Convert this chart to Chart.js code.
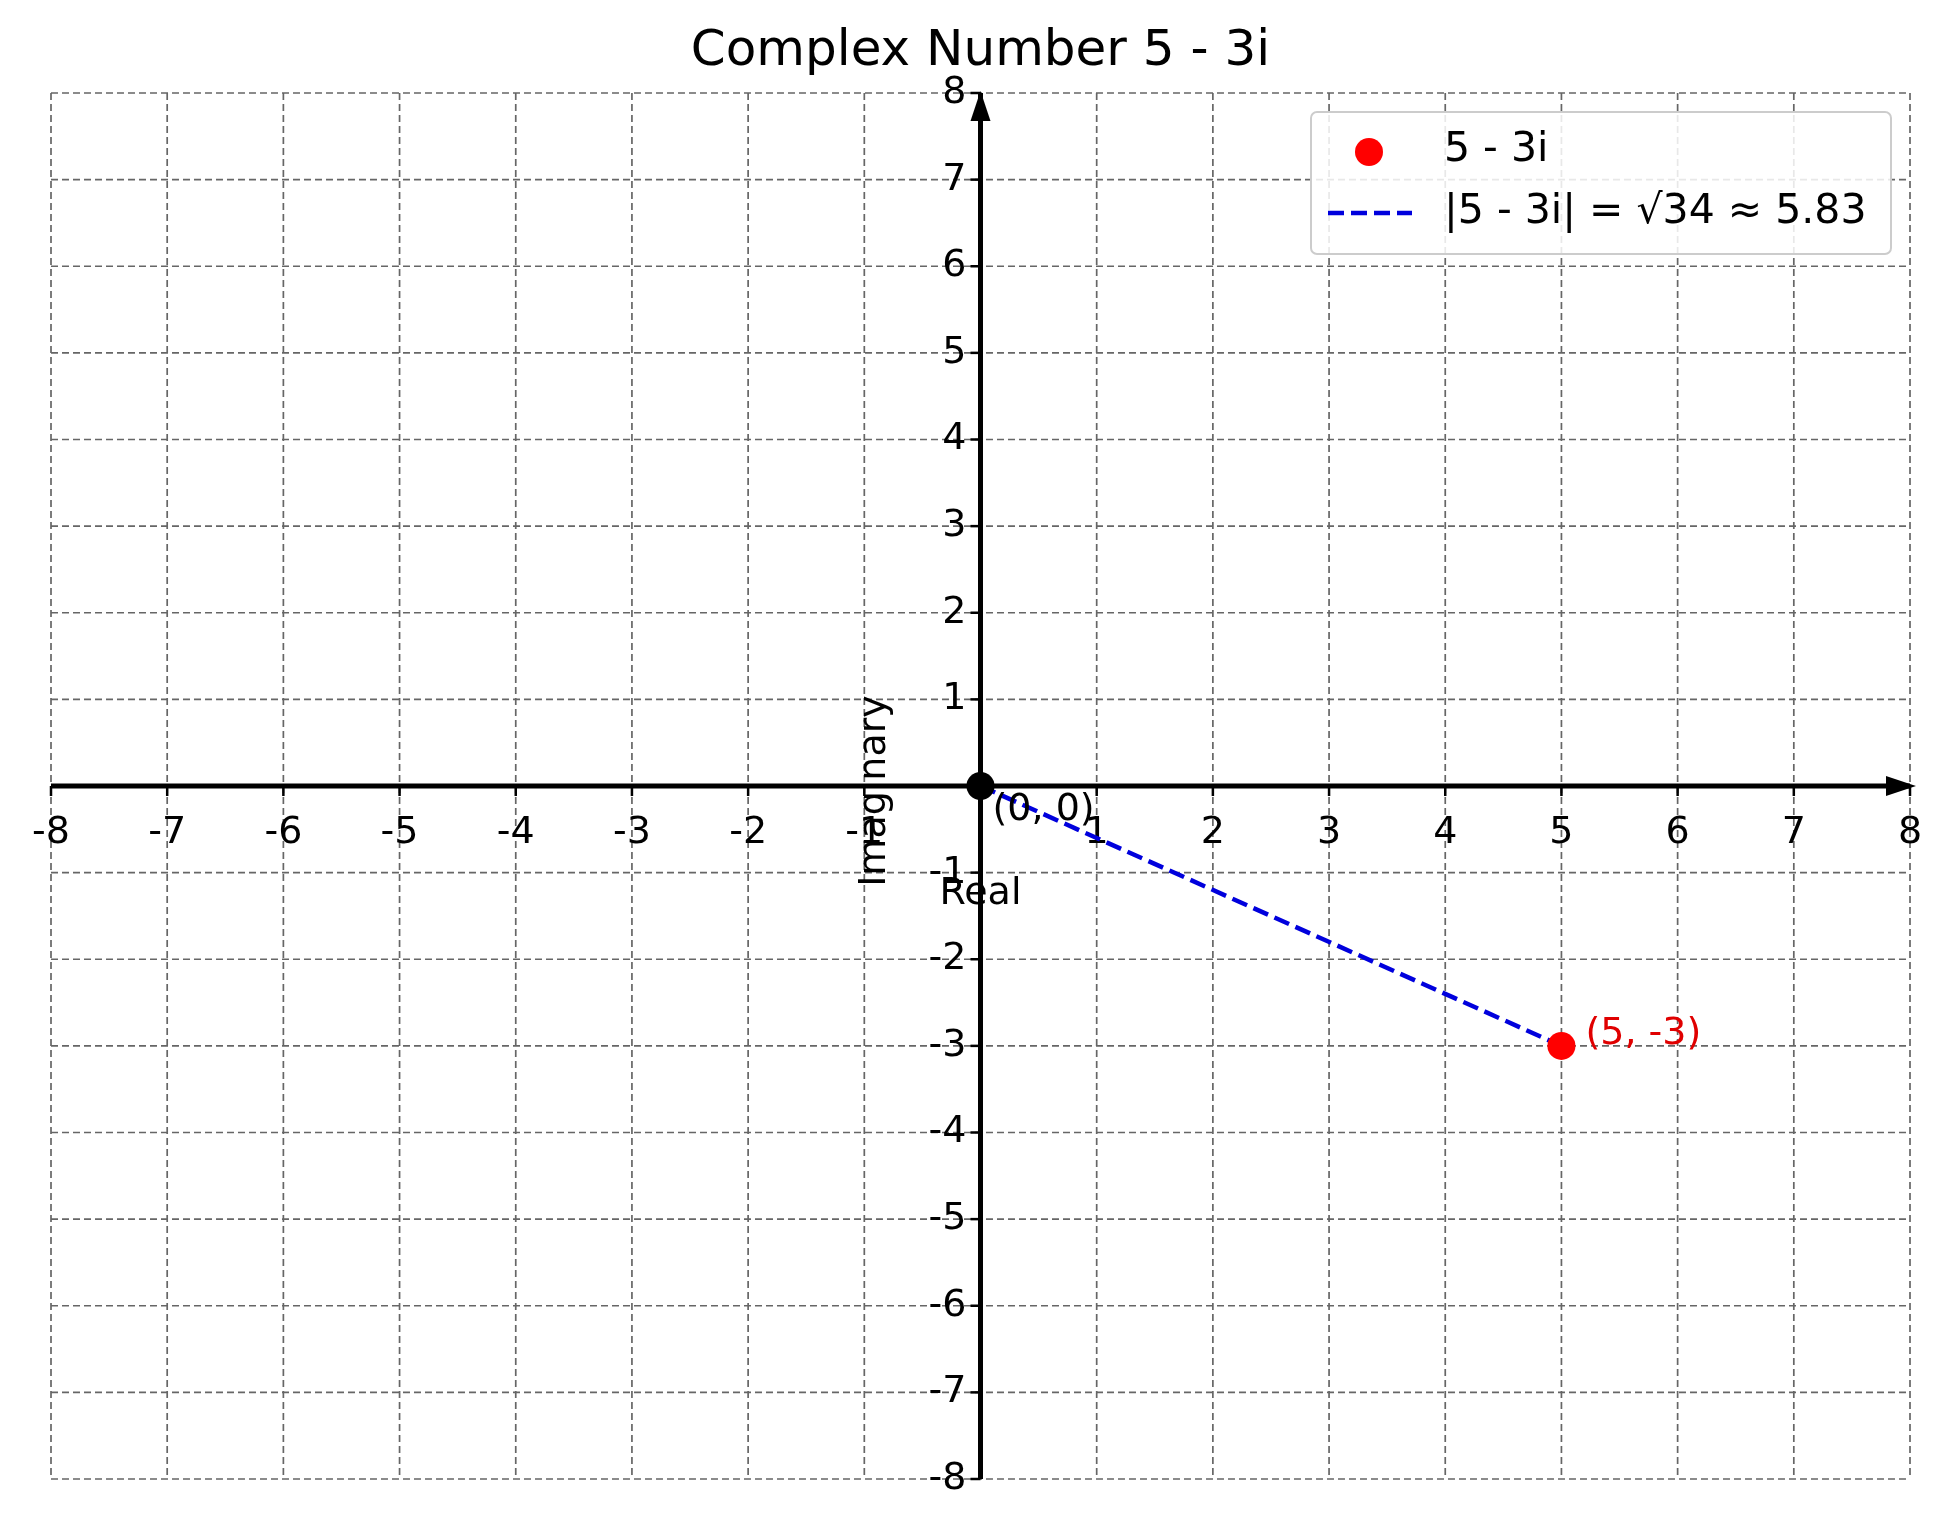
<!DOCTYPE html>
<html><head><meta charset="utf-8">
<script src="https://cdn.jsdelivr.net/npm/chart.js@4"></script>
<style>html,body{margin:0;padding:0;background:#fff}#w{width:1954px;height:1534px}</style>
</head><body><div id="w"><canvas id="c"></canvas></div>
<script>
const titleText = 'Complex Number 5 - 3i';
const pointLabel = '5 - 3i';
const lineLabel = '|5 - 3i| = √34 ≈ 5.83';
const complexPoint = [{x:5, y:-3}];
const originPoint = [{x:0, y:0}];
const modulusLine = [{x:0, y:0}, {x:5, y:-3}];
const axisMin = -8, axisMax = 8;
const tickValues = [-8,-7,-6,-5,-4,-3,-2,-1,0,1,2,3,4,5,6,7,8];
const FONT = 'DejaVu Sans';

const gridPlugin = {
  id:'gridP',
  beforeDatasetsDraw(chart){
    const {ctx, scales:{x,y}, chartArea:a} = chart;
    ctx.save();
    ctx.strokeStyle='#666'; ctx.lineWidth=1.7; ctx.setLineDash([7,4]);
    x.ticks.forEach(t=>{const p=x.getPixelForValue(t.value); ctx.beginPath(); ctx.moveTo(p,a.top); ctx.lineTo(p,a.bottom); ctx.stroke();});
    y.ticks.forEach(t=>{const p=y.getPixelForValue(t.value); ctx.beginPath(); ctx.moveTo(a.left,p); ctx.lineTo(a.right,p); ctx.stroke();});
    ctx.setLineDash([]);
    const x0 = x.getPixelForValue(0), y0 = y.getPixelForValue(0);
    ctx.strokeStyle='#000'; ctx.lineWidth=5;
    ctx.beginPath(); ctx.moveTo(a.left,y0); ctx.lineTo(a.right,y0); ctx.stroke();
    ctx.beginPath(); ctx.moveTo(x0,a.top); ctx.lineTo(x0,a.bottom); ctx.stroke();
    ctx.lineWidth=2.5; ctx.fillStyle='#000'; ctx.font=`38px "${FONT}"`;
    ctx.textAlign='center'; ctx.textBaseline='top';
    x.ticks.forEach(t=>{const p=x.getPixelForValue(t.value);
      ctx.beginPath(); ctx.moveTo(p,y0); ctx.lineTo(p,y0+10); ctx.stroke();
      if(t.value!==0) ctx.fillText(String(t.value), p, y0+28);});
    ctx.textAlign='right'; ctx.textBaseline='middle';
    y.ticks.forEach(t=>{const p=y.getPixelForValue(t.value);
      ctx.beginPath(); ctx.moveTo(x0,p); ctx.lineTo(x0-10,p); ctx.stroke();
      if(t.value!==0) ctx.fillText(String(t.value), x0-14, p);});
    ctx.restore();
  }
};

const overlay = {
  id:'overlay',
  afterDraw(chart){
    const {ctx, scales:{x,y}} = chart;
    const x0 = x.getPixelForValue(0), y0 = y.getPixelForValue(0);
    ctx.save();
    ctx.fillStyle='#000';
    ctx.beginPath();
    const xe = x.getPixelForValue(axisMax);
    ctx.moveTo(xe+6,y0); ctx.lineTo(xe-24,y0-10); ctx.lineTo(xe-24,y0+10); ctx.closePath(); ctx.fill();
    ctx.beginPath();
    const yt = y.getPixelForValue(axisMax);
    ctx.moveTo(x0,yt-2); ctx.lineTo(x0-10,yt+28); ctx.lineTo(x0+10,yt+28); ctx.closePath(); ctx.fill();
    ctx.font = `38px "${FONT}"`;
    ctx.textAlign='center'; ctx.textBaseline='middle';
    ctx.fillText('Real', x0, y0+108);
    ctx.save(); ctx.translate(x0-105, y0+5); ctx.rotate(-Math.PI/2);
    ctx.fillText('Imaginary', 0, 0); ctx.restore();
    ctx.textAlign='left';
    ctx.fillStyle='#000';
    ctx.fillText('(0, 0)', x0+12, y0+24);
    ctx.fillStyle='#e00000';
    const px = x.getPixelForValue(complexPoint[0].x), py = y.getPixelForValue(complexPoint[0].y);
    ctx.fillText('(5, -3)', px+24, py-12);
    const lx=1311, ly=112, lw=580, lh=142;
    ctx.fillStyle='rgba(255,255,255,0.85)';
    ctx.strokeStyle='#ccc'; ctx.lineWidth=2;
    ctx.beginPath(); ctx.roundRect(lx,ly,lw,lh,6); ctx.fill(); ctx.stroke();
    ctx.fillStyle='red'; ctx.beginPath(); ctx.arc(1369,152,14,0,Math.PI*2); ctx.fill();
    ctx.strokeStyle='#0000dd'; ctx.lineWidth=4.5; ctx.setLineDash([16,7]);
    ctx.beginPath(); ctx.moveTo(1328,213); ctx.lineTo(1412,213); ctx.stroke(); ctx.setLineDash([]);
    ctx.fillStyle='#000'; ctx.font=`41px "${FONT}"`;
    ctx.fillText(pointLabel, 1444, 150);
    ctx.fillText(lineLabel, 1444, 212);
    ctx.font=`50px "${FONT}"`; ctx.textAlign='center';
    ctx.fillText(titleText, x0, 52);
    ctx.restore();
  }
};

new Chart(document.getElementById('c'), {
  type:'scatter',
  data:{datasets:[
    {label:lineLabel, data:modulusLine, showLine:true, borderColor:'#0000dd', borderWidth:4.5, borderDash:[16,7], pointRadius:0, order:3},
    {label:'origin', data:originPoint, pointRadius:14, backgroundColor:'#000', borderWidth:0, order:1},
    {label:pointLabel, data:complexPoint, pointRadius:14, backgroundColor:'red', borderWidth:0, order:2}
  ]},
  options:{
    responsive:true, maintainAspectRatio:false, animation:false,
    layout:{padding:{left:51, right:44, top:93, bottom:55}},
    plugins:{legend:{display:false}, tooltip:{enabled:false}},
    scales:{
      x:{type:'linear', min:axisMin, max:axisMax, position:{y:0},
        afterBuildTicks(s){ s.ticks = tickValues.map(v=>({value:v})); },
        border:{display:false}, grid:{display:false}, ticks:{display:false}},
      y:{type:'linear', min:axisMin, max:axisMax, position:{x:0},
        afterBuildTicks(s){ s.ticks = tickValues.map(v=>({value:v})); },
        border:{display:false}, grid:{display:false}, ticks:{display:false}}
    }
  },
  plugins:[gridPlugin, overlay]
});
</script></body></html>
